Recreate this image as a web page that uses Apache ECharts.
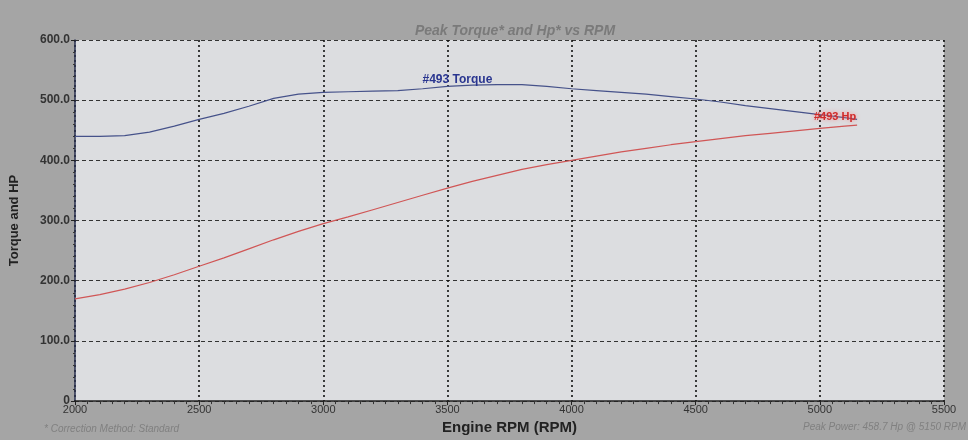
<!DOCTYPE html>
<html>
<head>
<meta charset="utf-8">
<script src="https://cdn.jsdelivr.net/npm/echarts@6/dist/echarts.min.js"></script>
<style>
	html, body { margin: 0; padding: 0; background: #a5a5a5; }
	#chart { width: 968px; height: 440px; }
</style>
</head>
<body>
<div id="chart"></div>
<script>
	// 转速 (RPM)
	var rpm = [2000, 2100, 2200, 2300, 2400, 2500, 2600, 2700, 2800, 2900, 3000, 3100, 3200, 3300, 3400, 3500, 3600,
		3700, 3800, 3900, 4000, 4100, 4200, 4300, 4400, 4500, 4600, 4700, 4800, 4900, 5000, 5100, 5150];
	// 扭矩
	var torque = [440, 440, 441, 447, 457, 468, 478, 490, 503, 510, 513, 514, 515, 516, 519, 523, 525,
		526, 526, 523, 519, 516, 513, 510, 506, 502, 497, 491, 486, 481, 476, 471, 468];
	// 马力
	var hp = [170, 177, 186, 197, 210, 224, 238, 253, 268, 282, 295, 306, 318, 330, 342, 354, 365,
		375, 385, 393, 400, 407, 414, 420, 426, 431, 436, 441, 445, 449, 453, 457, 458.7];
	var xTicks = [2000, 2500, 3000, 3500, 4000, 4500, 5000, 5500];
	var yTicks = [0, 100, 200, 300, 400, 500, 600];

	var torqueLabelRpm = 3500;

	var torqueData = rpm.map(function(r, i) {
		var item = { value: [r, torque[i]] };
		if (r === torqueLabelRpm) {
			item.label = {
				show: true,
				position: 'top',
				offset: [10, 4],
				formatter: '#493 Torque',
				color: '#2a3690',
				fontWeight: 'bold',
				fontSize: 12,
				fontFamily: 'Liberation Sans'
			};
		}
		return item;
	});
	var hpData = rpm.map(function(r, i) {
		var item = { value: [r, hp[i]] };
		if (i === rpm.length - 1) {
			item.label = {
				show: true,
				position: 'top',
				offset: [-22, 2],
				formatter: '#493 Hp',
				color: '#d02a2a',
				fontWeight: 'bold',
				fontSize: 11,
				fontFamily: 'Liberation Sans',
				textShadowColor: 'rgba(255,120,120,0.8)',
				textShadowBlur: 4
			};
		}
		return item;
	});

	var chart = echarts.init(document.getElementById('chart'));
	var option = {
		backgroundColor: '#a5a5a5',
		animation: false,
		title: {
			text: 'Peak Torque* and Hp* vs RPM',
			left: 510,
			textAlign: 'center',
			top: 19,
			textStyle: {
				color: '#7a7a7a',
				fontStyle: 'italic',
				fontWeight: 'bold',
				fontSize: 14,
				fontFamily: 'Liberation Sans'
			}
		},
		grid: {
			left: 67,
			right: 24,
			top: 40,
			bottom: 30,
			show: true,
			backgroundColor: '#dcdde0',
			borderWidth: 0
		},
		xAxis: {
			type: 'value',
			min: xTicks[0],
			max: xTicks[xTicks.length - 1],
			interval: 500,
			name: 'Engine RPM (RPM)',
			nameLocation: 'middle',
			nameGap: 16,
			nameTextStyle: {
				color: '#222',
				fontWeight: 'bold',
				fontSize: 15,
				fontFamily: 'Liberation Sans'
			},
			axisLine: { lineStyle: { color: '#222', width: 1.5 } },
			axisTick: { show: true, length: 4, lineStyle: { color: '#222' } },
			minorTick: { show: true, splitNumber: 10, length: 3, lineStyle: { color: '#333' } },
			axisLabel: {
				color: '#333',
				fontSize: 11,
				margin: 3,
				fontFamily: 'Liberation Sans',
				formatter: function(v) { return String(v); }
			},
			splitLine: {
				show: true,
				lineStyle: { color: '#111', type: [2, 3], width: 1.6 }
			}
		},
		yAxis: {
			type: 'value',
			min: yTicks[0],
			max: yTicks[yTicks.length - 1],
			interval: 100,
			name: 'Torque and HP',
			nameLocation: 'middle',
			nameGap: 54,
			nameTextStyle: {
				color: '#222',
				fontWeight: 'bold',
				fontSize: 13,
				fontFamily: 'Liberation Sans'
			},
			axisLine: { show: true, lineStyle: { color: '#2a3050', width: 1.5 } },
			axisTick: { show: true, length: 4, lineStyle: { color: '#222' } },
			minorTick: { show: true, splitNumber: 5, length: 2, lineStyle: { color: '#333' } },
			axisLabel: {
				color: '#333',
				fontSize: 12,
				fontWeight: 'bold',
				margin: 5,
				fontFamily: 'Liberation Sans',
				formatter: function(v) { return v === 0 ? '0' : v.toFixed(1); }
			},
			splitLine: {
				show: true,
				lineStyle: { color: '#333', type: [4, 3], width: 1 }
			}
		},
		series: [{
				name: '#493 Torque',
				type: 'line',
				data: torqueData,
				showSymbol: true,
				symbol: 'circle',
				symbolSize: 0,
				lineStyle: { color: '#46528a', width: 1.2 },
				itemStyle: { color: '#46528a' }
			},
			{
				name: '#493 Hp',
				type: 'line',
				data: hpData,
				showSymbol: true,
				symbol: 'circle',
				symbolSize: 0,
				lineStyle: { color: '#d05656', width: 1.2 },
				itemStyle: { color: '#d05656' }
			}
		],
		graphic: [{
				type: 'text',
				left: 44,
				top: 424,
				style: {
					text: '* Correction Method: Standard',
					fill: '#808080',
					font: 'italic 10px "Liberation Sans"'
				}
			},
			{
				type: 'text',
				right: 2,
				top: 422,
				style: {
					text: 'Peak Power: 458.7 Hp @ 5150 RPM',
					fill: '#808080',
					font: 'italic 10px "Liberation Sans"'
				}
			}
		]
	};
	chart.setOption(option);
</script>
</body>
</html>
